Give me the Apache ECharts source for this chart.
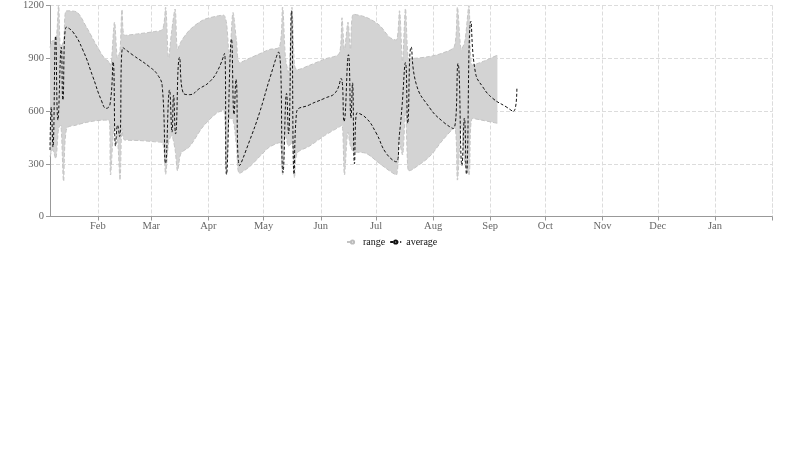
<!DOCTYPE html>
<html><head><meta charset="utf-8">
<script src="https://cdn.jsdelivr.net/npm/echarts@6/dist/echarts.min.js"></script>
<style>html,body{margin:0;padding:0;background:#fff}#c{width:800px;height:450px}</style>
</head><body><div id="c"></div>
<script>
const yTicks = [0, 300, 600, 900, 1200];
const monthLabels = ['Jan','Feb','Mar','Apr','May','Jun','Jul','Aug','Sep','Oct','Nov','Dec'];
const xRange = ['2024-01-06', '2025-02-01'];

const avgDates = ['2024-01-06 00:00','2024-01-06 17:00','2024-01-07 14:00','2024-01-09 01:00','2024-01-10 07:00','2024-01-12 03:00','2024-01-13 00:00','2024-01-14 20:00','2024-01-18 10:00','2024-01-23 21:00','2024-01-29 07:00','2024-02-02 20:00','2024-02-05 13:00','2024-02-07 15:00','2024-02-09 06:00','2024-02-10 15:00','2024-02-11 17:00','2024-02-12 19:00','2024-02-14 14:00','2024-02-20 00:00','2024-02-29 01:00','2024-03-04 13:00','2024-03-06 23:00','2024-03-08 18:00','2024-03-10 22:00','2024-03-12 06:00','2024-03-13 02:00','2024-03-14 04:00','2024-03-16 08:00','2024-03-18 12:00','2024-03-21 18:00','2024-03-27 05:00','2024-04-01 15:00','2024-04-06 03:00','2024-04-09 18:00','2024-04-10 20:00','2024-04-13 13:00','2024-04-14 22:00','2024-04-16 00:00','2024-04-17 22:00','2024-04-23 08:00','2024-04-28 18:00','2024-05-04 04:00','2024-05-09 02:00','2024-05-11 12:00','2024-05-13 10:00','2024-05-14 12:00','2024-05-16 03:00','2024-05-17 12:00','2024-05-18 20:00','2024-05-25 21:00','2024-06-03 01:00','2024-06-09 00:00','2024-06-12 00:00','2024-06-13 15:00','2024-06-16 01:00','2024-06-17 10:00','2024-06-18 06:00','2024-06-19 07:00','2024-06-20 16:00','2024-06-25 16:00','2024-07-01 02:00','2024-07-06 12:00','2024-07-11 23:00','2024-07-13 18:00','2024-07-15 02:00','2024-07-17 00:00','2024-07-18 06:00','2024-07-20 02:00','2024-07-22 19:00','2024-07-30 00:00','2024-08-06 06:00','2024-08-12 01:00','2024-08-14 12:00','2024-08-16 16:00','2024-08-18 00:00','2024-08-19 02:00','2024-08-21 13:00','2024-08-23 23:00','2024-08-27 23:00','2024-09-02 09:00','2024-09-09 15:00','2024-09-13 14:00','2024-09-15 12:00'];
const avgValues = [378,622,395,1026,548,963,662,1077,1050,946,794,662,615,640,880,400,520,455,960,918,851,804,738,302,720,480,690,470,905,700,693,728,766,832,927,240,1010,580,780,290,430,590,780,935,250,700,470,1170,240,590,635,672,705,785,540,920,560,760,300,590,560,475,360,311,470,620,875,530,965,755,620,540,500,870,290,560,240,1110,820,737,672,624,598,735];

const rangeDates = ['2024-01-06 00:00','2024-01-07 10:00','2024-01-09 01:00','2024-01-10 16:00','2024-01-11 18:00','2024-01-13 09:00','2024-01-15 00:00','2024-01-20 07:00','2024-01-25 17:00','2024-01-31 03:00','2024-02-04 15:00','2024-02-07 02:00','2024-02-07 21:00','2024-02-10 01:00','2024-02-11 17:00','2024-02-13 01:00','2024-02-14 03:00','2024-02-15 12:00','2024-02-23 15:00','2024-03-02 18:00','2024-03-07 03:00','2024-03-08 18:00','2024-03-10 09:00','2024-03-12 00:00','2024-03-13 22:00','2024-03-15 06:00','2024-03-17 04:00','2024-03-21 18:00','2024-03-29 00:00','2024-04-05 06:00','2024-04-09 05:00','2024-04-10 20:00','2024-04-12 11:00','2024-04-14 09:00','2024-04-16 06:00','2024-04-17 22:00','2024-04-23 08:00','2024-04-28 18:00','2024-05-04 04:00','2024-05-09 15:00','2024-05-11 06:00','2024-05-12 21:00','2024-05-14 12:00','2024-05-16 09:00','2024-05-17 18:00','2024-05-19 03:00','2024-05-25 21:00','2024-06-03 01:00','2024-06-11 04:00','2024-06-12 13:00','2024-06-13 21:00','2024-06-15 19:00','2024-06-17 03:00','2024-06-18 18:00','2024-06-25 16:00','2024-07-02 21:00','2024-07-08 07:00','2024-07-11 23:00','2024-07-13 18:00','2024-07-15 09:00','2024-07-17 00:00','2024-07-18 15:00','2024-07-20 06:00','2024-07-30 00:00','2024-08-06 06:00','2024-08-12 14:00','2024-08-14 05:00','2024-08-16 09:00','2024-08-18 07:00','2024-08-20 11:00','2024-08-22 08:00','2024-08-28 21:00','2024-09-04 22:00'];
const rangeLow = [340,380,330,500,520,200,500,520,535,545,548,548,236,520,430,207,500,435,432,425,418,240,420,460,380,260,360,397,510,586,605,236,560,550,400,246,283,340,395,420,236,470,400,420,220,359,400,460,510,520,236,480,400,370,359,302,260,236,420,350,600,260,264,340,435,505,207,520,300,236,558,545,530];
const rangeHigh = [960,1000,1000,1200,960,1000,1170,1164,1079,975,899,880,860,1105,900,950,1177,1030,1040,1052,1065,1190,900,1050,1180,950,995,1060,1117,1139,1145,1100,900,1160,1000,875,900,925,950,965,1190,900,820,1190,860,835,860,895,930,1130,950,1105,950,1150,1133,1088,1020,1003,1170,880,1183,900,899,910,930,968,1190,950,1000,1200,860,885,918];

const FONT = "'Liberation Serif', 'Times New Roman', serif";
const lowData = rangeDates.map((d, i) => [d, rangeLow[i]]);
const spanData = rangeDates.map((d, i) => [d, rangeHigh[i] - rangeLow[i]]);
const avgData = avgDates.map((d, i) => [d, avgValues[i]]);
const maxTs = echarts.time.parse(xRange[1]).getTime();

const chart = echarts.init(document.getElementById('c'));
chart.setOption({
  animation: false,
  backgroundColor: '#fff',
  grid: { left: 50, right: 28, top: 5, bottom: 233.5, containLabel: false },
  legend: {
    top: 232, left: 341, itemWidth: 11, itemHeight: 4, itemGap: 4, padding: 5,
    data: ['range', 'average'],
    textStyle: { fontFamily: FONT, fontSize: 10, color: '#111' }
  },
  xAxis: {
    type: 'time', min: xRange[0], max: xRange[1], splitNumber: 12,
    axisLine: { lineStyle: { color: '#999' } },
    axisTick: { show: true, length: 4, lineStyle: { color: '#999' } },
    axisLabel: {
      formatter: v => (v >= maxTs ? '' : monthLabels[new Date(v).getMonth()]),
      color: '#666', fontFamily: FONT, fontSize: 10.5, margin: 4
    },
    splitLine: { show: true, lineStyle: { type: 'dashed', color: '#dcdcdc' } }
  },
  yAxis: {
    type: 'value', min: yTicks[0], max: yTicks[yTicks.length - 1], interval: yTicks[1] - yTicks[0],
    axisLine: { show: true, lineStyle: { color: '#999' } },
    axisTick: { show: true, length: 4, lineStyle: { color: '#999' } },
    axisLabel: { formatter: v => String(v), color: '#666', fontFamily: FONT, fontSize: 10.5, margin: 6 },
    splitLine: { show: true, lineStyle: { type: 'dashed', color: '#dcdcdc' } }
  },
  series: [
    { name: 'range', type: 'line', data: lowData, stack: 'band', smooth: 0.3, showSymbol: false, symbol: 'emptyCircle',
      lineStyle: { color: '#c4c4c4', width: 1, type: 'dashed' }, itemStyle: { color: '#bdbdbd' }, z: 1 },
    { name: 'range', type: 'line', data: spanData, stack: 'band', smooth: 0.3, showSymbol: false, symbol: 'emptyCircle',
      lineStyle: { color: '#c4c4c4', width: 1, type: 'dashed' }, itemStyle: { color: '#bdbdbd' },
      areaStyle: { color: '#d3d3d3', opacity: 1 }, z: 1 },
    { name: 'average', type: 'line', data: avgData, smooth: true, showSymbol: false, symbol: 'emptyCircle',
      lineStyle: { color: '#111', width: 1, type: [3, 2] }, itemStyle: { color: '#111' }, z: 3 }
  ]
});
</script></body></html>
